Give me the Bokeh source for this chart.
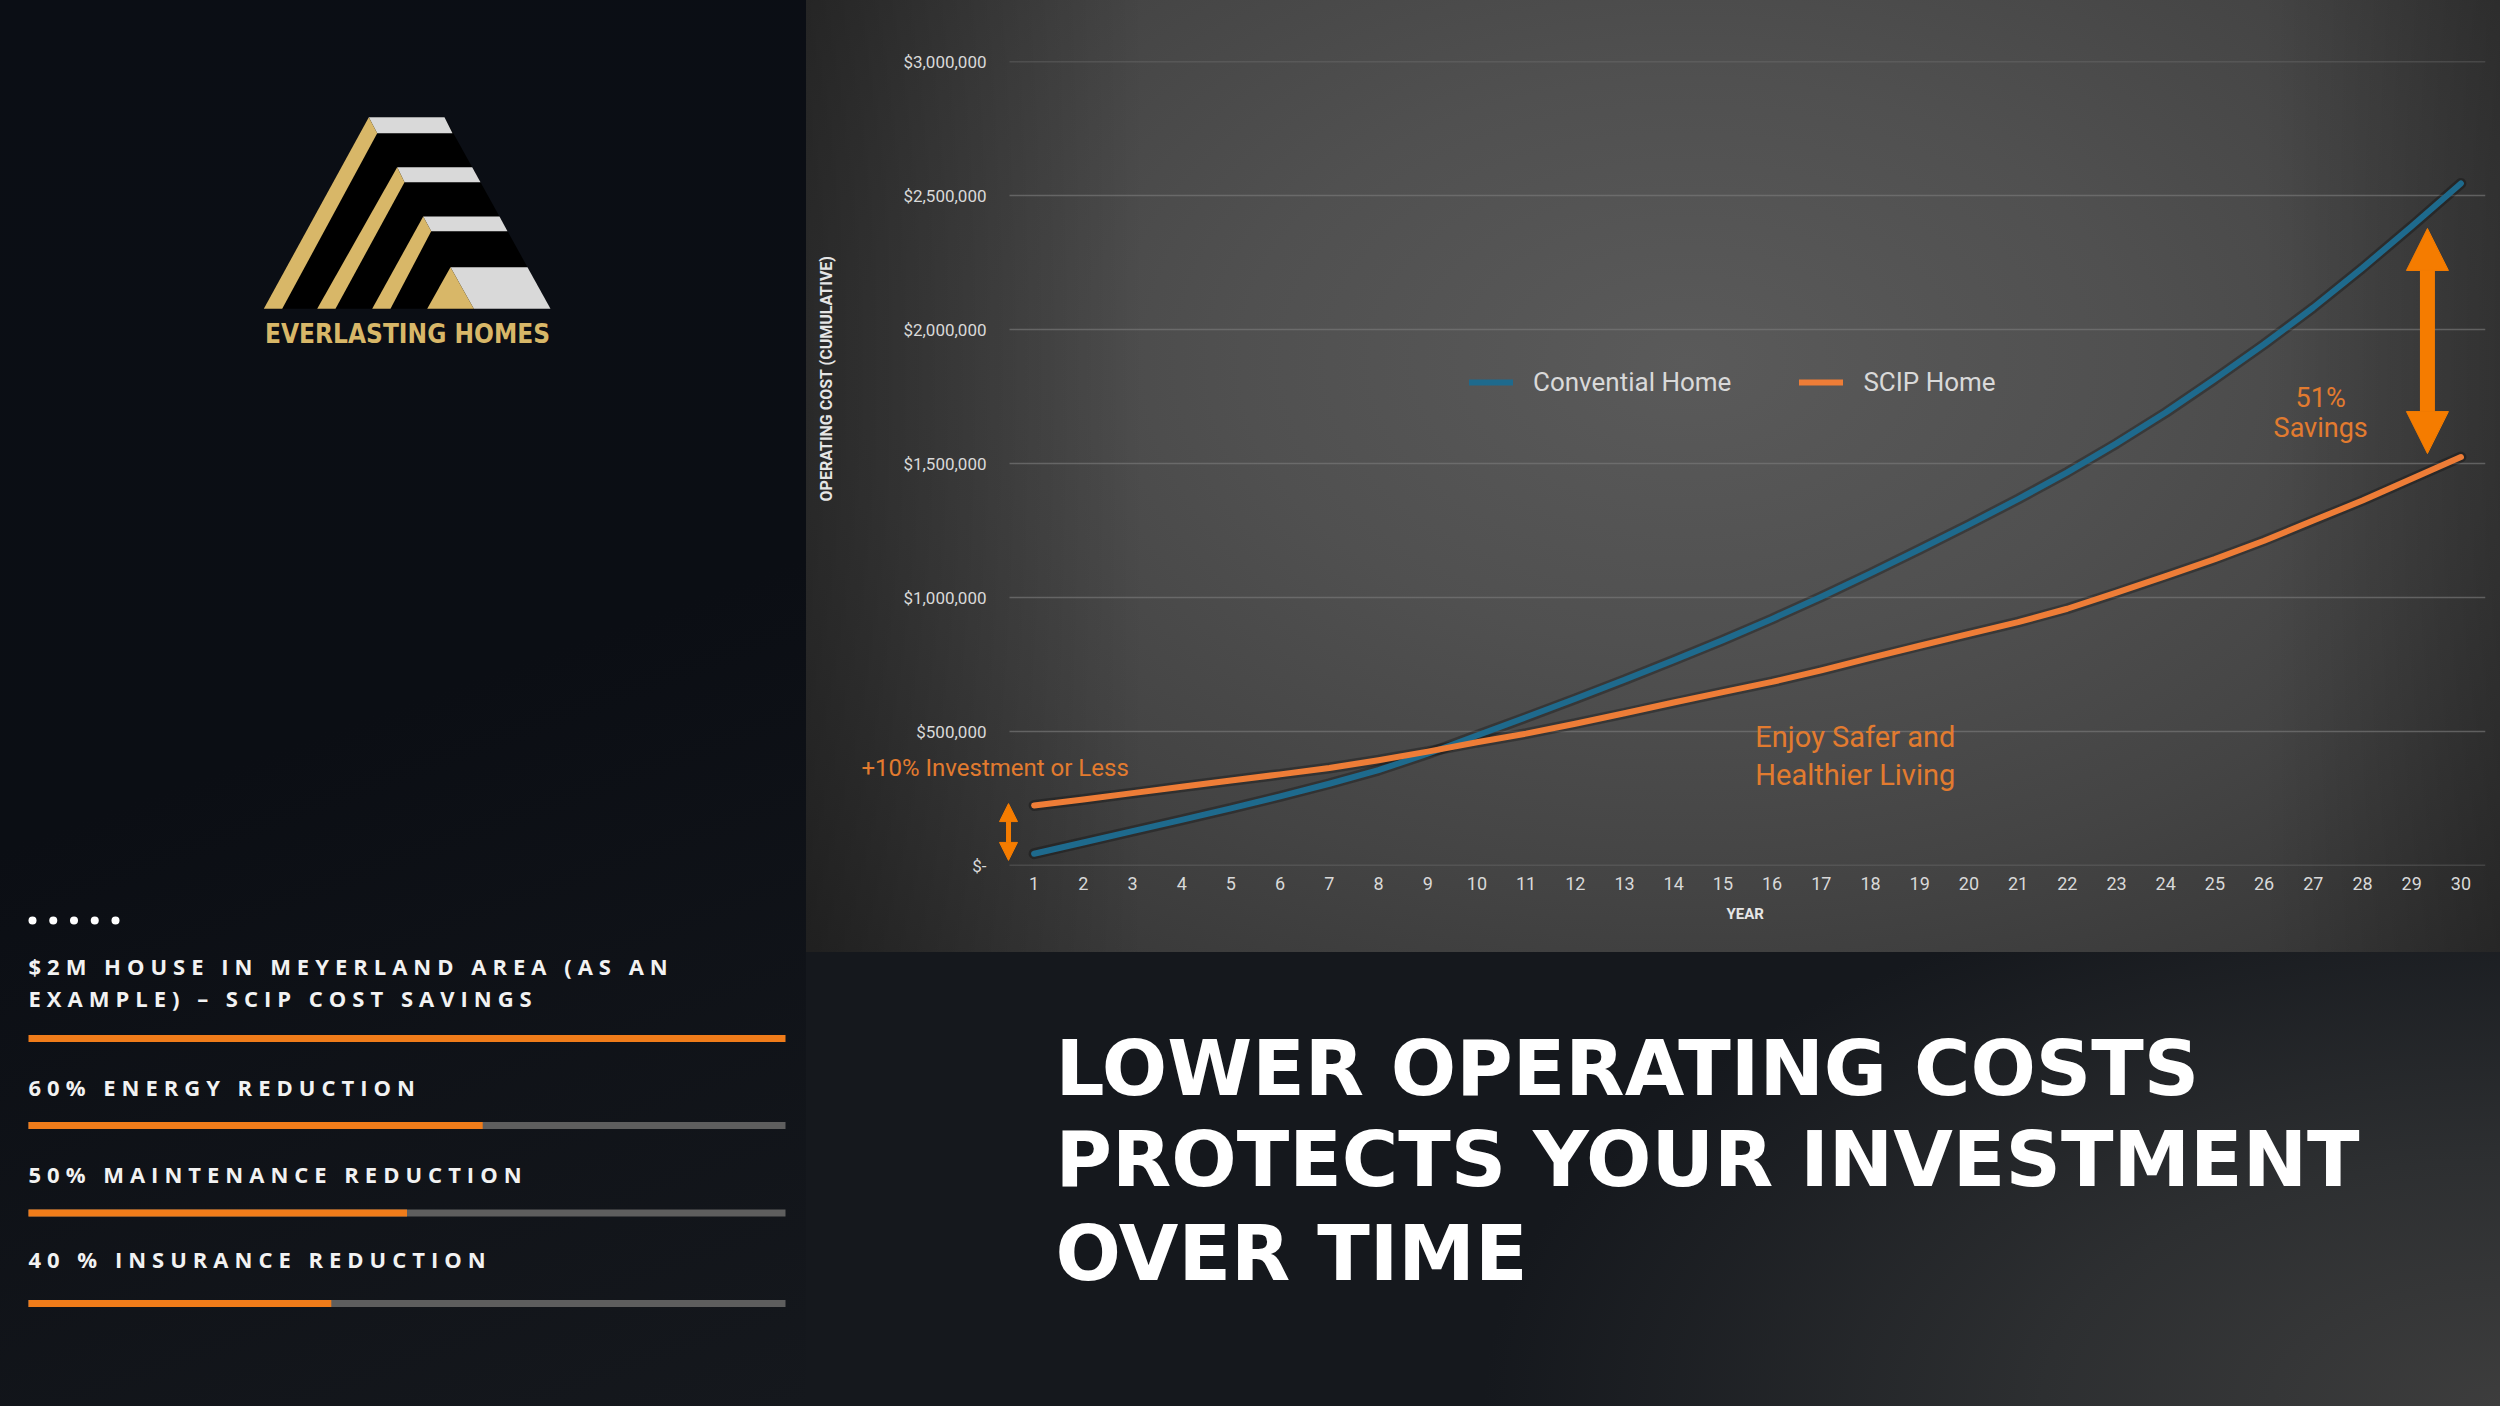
from bokeh.plotting import figure
from bokeh.layouts import row, column
from bokeh.models import (Range1d, FixedTicker, Label, Arrow, NormalHead,
                          Legend, LegendItem, ColumnDataSource, Title)
from bokeh.core.properties import value
from bokeh.embed import file_html
from bokeh.resources import INLINE

# ---------------------------------------------------------------- data
YEARS = list(range(1, 31))

CONVENTIONAL_HOME = [
    44_000, 86_000, 128_000, 170_000, 213_000, 258_000, 305_000, 356_000,
    417_000, 485_000, 553_000, 622_000, 693_000, 766_000, 841_000, 920_000,
    1_003_000, 1_090_000, 1_180_000, 1_272_000, 1_367_000, 1_467_000,
    1_575_000, 1_690_000, 1_815_000, 1_945_000, 2_082_000, 2_230_000,
    2_385_000, 2_545_000,
]

SCIP_HOME = [
    224_000, 246_000, 270_000, 294_000, 317_000, 340_000, 364_000, 393_000,
    425_000, 460_000, 492_000, 529_000, 568_000, 608_000, 647_000, 685_000,
    728_000, 775_000, 820_000, 864_000, 908_000, 958_000, 1_018_000,
    1_080_000, 1_143_000, 1_212_000, 1_287_000, 1_362_000, 1_443_000,
    1_524_000,
]

Y_TICKS = [0, 500_000, 1_000_000, 1_500_000, 2_000_000, 2_500_000, 3_000_000]
Y_TICK_LABELS = ["$-", "$500,000", "$1,000,000", "$1,500,000", "$2,000,000",
                 "$2,500,000", "$3,000,000"]

HEADER_LINES = ["$2M HOUSE IN MEYERLAND AREA (AS AN",
                "EXAMPLE) \u2013 SCIP COST SAVINGS"]
HEADER_PCT = 100
SAVINGS_ITEMS = ["60% ENERGY REDUCTION", "50% MAINTENANCE REDUCTION",
                 "40 % INSURANCE REDUCTION"]
SAVINGS_PCT = [60, 50, 40]

TITLE_LINES = ["LOWER OPERATING COSTS", "PROTECTS YOUR INVESTMENT", "OVER TIME"]

# ---------------------------------------------------------------- styles
BLUE = "#1e6a8d"
ORANGE = "#ee7d37"
ARROW_ORANGE = "#f57c00"
NOTE_ORANGE = "#e27b2f"
BAR_ORANGE = "#f07c1a"
BAR_GRAY = "#5e5e5e"
GOLD = "#d8b768"
SILVER = "#d9d9d9"
AXIS_TEXT = "#d9d9d9"

LEFT_BG = "linear-gradient(160deg, #0b0e15 0%, #0b0e14 50%, #15181d 100%)"
CHART_BG = ("linear-gradient(90deg, rgba(0,0,0,0.38) 0%, rgba(0,0,0,0) 20%, "
            "rgba(0,0,0,0) 86%, rgba(0,0,0,0.28) 100%), "
            "radial-gradient(ellipse 75% 85% at 52% 38%, #5a5a5a 0%, #505050 35%, "
            "#444444 65%, #333333 100%)")
TITLE_BG = ("radial-gradient(ellipse 60% 120% at 100% 100%, #3d3d3d 0%, "
            "#2d2f31 45%, #15181d 100%)")


def blank_figure(width, height, x_range, y_range, styles=None):
    p = figure(width=width, height=height, x_range=x_range, y_range=y_range,
               x_axis_type=None, y_axis_type=None, min_border=0,
               output_backend="svg", toolbar_location=None,
               background_fill_alpha=0, border_fill_alpha=0,
               outline_line_color=None, styles=styles or {})
    return p


# ---------------------------------------------------------------- logo panel
logo = blank_figure(806, 880, Range1d(0, 806), Range1d(880, 0))

black_body = ([368.3, 444.0, 550.0, 263.3], [116.7, 116.7, 308.3, 308.3])
silver_parts = [
    ([368.3, 444.0, 452.0, 376.7], [116.7, 116.7, 132.7, 132.7]),
    ([396.7, 471.7, 480.0, 404.0], [166.7, 166.7, 181.7, 181.7]),
    ([422.7, 499.0, 507.0, 430.7], [216.0, 216.0, 230.7, 230.7]),
    ([450.0, 527.0, 550.0, 473.3], [266.7, 266.7, 308.3, 308.3]),
]
gold_parts = [
    ([368.3, 376.7, 281.7, 263.3], [116.7, 132.7, 308.3, 308.3]),
    ([396.7, 404.0, 335.0, 316.7], [166.7, 181.7, 308.3, 308.3]),
    ([422.7, 430.7, 390.0, 371.7], [216.0, 230.7, 308.3, 308.3]),
    ([450.0, 426.7, 473.3], [266.7, 308.3, 308.3]),
]
logo.patch(black_body[0], black_body[1], fill_color="#000000", line_color=None)
logo.patches([s[0] for s in silver_parts], [s[1] for s in silver_parts],
             fill_color=SILVER, line_color=None)
logo.patches([g[0] for g in gold_parts], [g[1] for g in gold_parts],
             fill_color=GOLD, line_color=None)
logo.text(x=[407], y=[333.5], text=["EVERLASTING HOMES"],
          text_font=value("DejaVu Sans Condensed"), text_font_style="bold",
          text_font_size="26px", text_color=GOLD,
          text_align="center", text_baseline="middle")

# ---------------------------------------------------------------- savings panel
info = blank_figure(806, 526, Range1d(0, 806), Range1d(1406, 880),
                    styles={"letter-spacing": "6px"})

BAR_X0, BAR_LEN, BAR_H = 28, 757, 7
info.scatter(x=[32 + 20.75 * i for i in range(5)], y=[920] * 5, size=8,
             marker="circle", fill_color="#ffffff", line_color=None)

text_kw = dict(text_font=value("Open Sans"), text_font_style="bold",
               text_font_size="22px", text_color="#f2f2f2",
               text_align="left", text_baseline="middle")
info.text(x=[BAR_X0] * 2, y=[965, 997.5], text=HEADER_LINES, **text_kw)
info.hbar(y=[1038], left=BAR_X0, right=[BAR_X0 + BAR_LEN * HEADER_PCT / 100],
          height=BAR_H, fill_color=BAR_ORANGE, line_color=None)

item_mid = [1086, 1173.7, 1258]
item_bar_y = [1125, 1212.5, 1303]
info.text(x=[BAR_X0] * 3, y=item_mid, text=SAVINGS_ITEMS, **text_kw)
info.hbar(y=item_bar_y, left=BAR_X0, right=BAR_X0 + BAR_LEN, height=BAR_H,
          fill_color=BAR_GRAY, line_color=None)
info.hbar(y=item_bar_y, left=BAR_X0,
          right=[BAR_X0 + BAR_LEN * v / 100 for v in SAVINGS_PCT],
          height=BAR_H, fill_color=BAR_ORANGE, line_color=None)

left_col = column(logo, info, styles={"background": LEFT_BG})

# ---------------------------------------------------------------- chart
# the frame reaches left of year 1 so the notes beside the first year and the
# vertical axis title stay inside the drawable area
chart = figure(width=1694, height=952,
               x_range=Range1d(-3.504, 30.5), y_range=Range1d(0, 3_000_000),
               output_backend="svg", toolbar_location=None,
               min_border_left=6, min_border_right=15,
               min_border_top=61, min_border_bottom=87,
               background_fill_alpha=0, border_fill_alpha=0,
               outline_line_color=None, styles={"background": CHART_BG})

chart.xgrid.visible = False
chart.ygrid.visible = False

for ax in (chart.xaxis, chart.yaxis):
    ax.axis_line_color = None
    ax.major_tick_line_color = None
    ax.minor_tick_line_color = None
    ax.major_tick_out = 0
    ax.major_tick_in = 0
    ax.major_label_text_font = "Roboto"
    ax.major_label_text_color = AXIS_TEXT

chart.xaxis.ticker = FixedTicker(ticks=YEARS)
chart.xaxis.major_label_text_font_size = "18px"
chart.xaxis.major_label_standoff = 11

chart.add_layout(Title(text="YEAR", align="left", offset=914,
                       vertical_align="top", standoff=24,
                       text_font="Roboto", text_font_style="bold",
                       text_font_size="15px", text_color="#e6e6e6"), "below")

# tick labels sit to the right of the frame edge, next to the first year
chart.yaxis.ticker = FixedTicker(ticks=Y_TICKS)
chart.yaxis.major_label_overrides = dict(zip(Y_TICKS, Y_TICK_LABELS))
chart.yaxis.major_label_text_font_size = "17px"
chart.yaxis.major_label_standoff = -174
chart.yaxis.axis_label = " "
chart.yaxis.axis_label_standoff = 64
chart.yaxis.axis_label_text_font_size = "15px"

chart.add_layout(Label(x=14, y=487, x_units="screen", y_units="screen",
                       text="OPERATING COST (CUMULATIVE)", angle=90,
                       angle_units="deg", text_font="Roboto",
                       text_font_style="bold", text_font_size="16px",
                       text_color="#e6e6e6", text_align="center",
                       text_baseline="middle"))

# horizontal gridlines spanning the year columns only
chart.segment(x0=0.5, x1=30.5, y0=Y_TICKS, y1=Y_TICKS,
              line_color="#7a7a7a", line_alpha=0.65, line_width=1.5)

src = ColumnDataSource(dict(year=YEARS, conventional=CONVENTIONAL_HOME,
                            scip=SCIP_HOME))
for col in ("conventional", "scip"):
    chart.line("year", col, source=src, line_color="#000000", line_alpha=0.28,
               line_width=11, line_cap="round")
blue = chart.line("year", "conventional", source=src, line_color=BLUE,
                  line_width=6, line_cap="round", line_join="round")
orange = chart.line("year", "scip", source=src, line_color=ORANGE,
                    line_width=6, line_cap="round", line_join="round")

legend = Legend(items=[LegendItem(label="Convential Home", renderers=[blue]),
                       LegendItem(label="SCIP Home", renderers=[orange])],
                orientation="horizontal", location=(657, 468),
                padding=0, margin=0, spacing=68, label_standoff=20,
                glyph_width=44, glyph_height=30, label_height=30,
                label_text_font="Roboto", label_text_font_size="26px",
                label_text_color=AXIS_TEXT, background_fill_alpha=0,
                border_line_alpha=0)
chart.add_layout(legend)


def double_arrow(x, y0, y1, head, width):
    return Arrow(x_start=x, y_start=y0, x_end=x, y_end=y1,
                 start=NormalHead(size=head, fill_color=ARROW_ORANGE,
                                  line_color=ARROW_ORANGE, line_width=1),
                 end=NormalHead(size=head, fill_color=ARROW_ORANGE,
                                line_color=ARROW_ORANGE, line_width=1),
                 line_color=ARROW_ORANGE, line_width=width)


chart.add_layout(double_arrow(29.32, 1_537_000, 2_377_000, 42, 15))
chart.add_layout(double_arrow(0.48, 19_000, 231_000, 18, 5))

note_kw = dict(text_font="Roboto", text_color=NOTE_ORANGE,
               text_baseline="middle")
chart.add_layout(Label(x=-2.51, y=362_000, text="+10% Investment or Less",
                       text_font_size="24px", text_align="left", **note_kw))
chart.add_layout(Label(x=15.66, y=478_000, text="Enjoy Safer and",
                       text_font_size="29px", text_align="left", **note_kw))
chart.add_layout(Label(x=15.66, y=336_000, text="Healthier Living",
                       text_font_size="29px", text_align="left", **note_kw))
chart.add_layout(Label(x=27.15, y=1_746_000, text="51%",
                       text_font_size="27px", text_align="center", **note_kw))
chart.add_layout(Label(x=27.15, y=1_631_000, text="Savings",
                       text_font_size="27px", text_align="center", **note_kw))

# ---------------------------------------------------------------- headline
title = blank_figure(1694, 454, Range1d(0, 1694), Range1d(454, 0),
                     styles={"background": TITLE_BG})
title.text(x=[246] * 3, y=[116, 207, 300.5], text=TITLE_LINES,
           text_font=value("DejaVu Sans"), text_font_style="bold",
           text_font_size="77px", text_color="#ffffff",
           text_align="left", text_baseline="middle")

right_col = column(chart, title)
page = row(left_col, right_col)

open("out.html", "w").write(file_html(page, INLINE))
